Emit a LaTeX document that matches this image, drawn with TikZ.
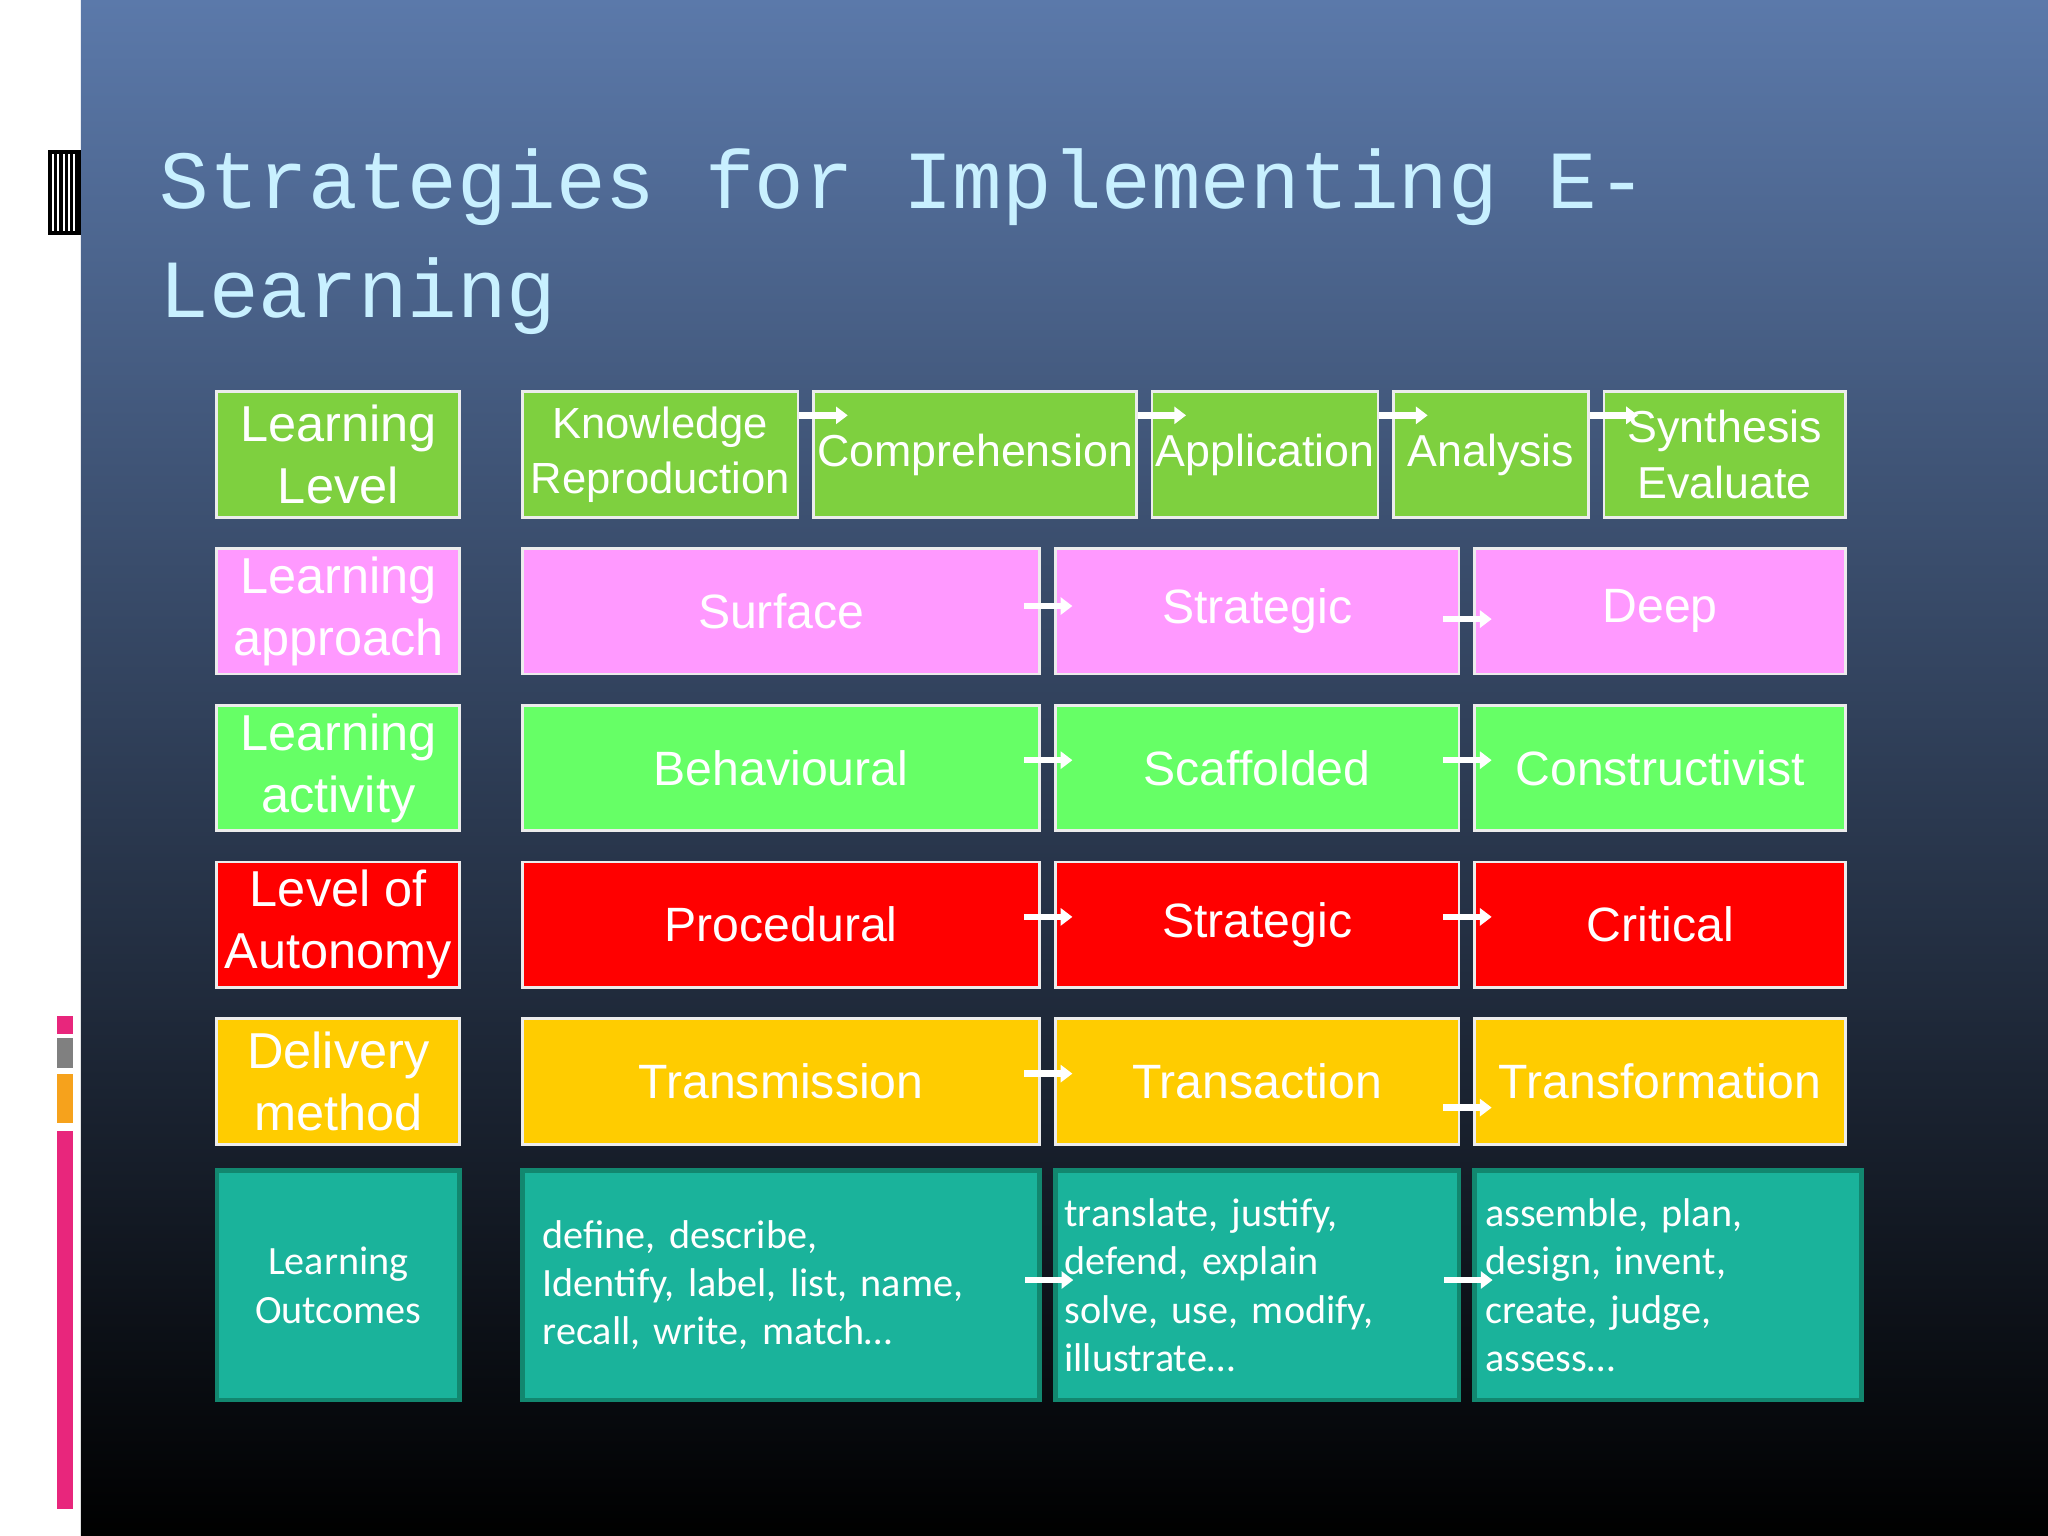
\documentclass[tikz,border=0pt]{standalone}
\usepackage{fontspec}
\setmainfont{Liberation Sans}
\newfontfamily\monof{Liberation Mono}
\newfontfamily\calf{Carlito}
\usetikzlibrary{calc,arrows.meta}
\definecolor{bgtop}{HTML}{5B79AA}
\definecolor{bgmid}{HTML}{2B3A55}
\definecolor{ttl}{HTML}{C8F0FF}
\definecolor{gA}{HTML}{7ED03F}
\definecolor{pk}{HTML}{FF99FF}
\definecolor{gB}{HTML}{66FF66}
\definecolor{rd}{HTML}{FF0000}
\definecolor{gd}{HTML}{FFCC00}
\definecolor{tl}{HTML}{1AB39B}
\definecolor{tlb}{HTML}{12876F}
\definecolor{pinkbar}{HTML}{E8267C}
\definecolor{orbar}{HTML}{F6A21C}
\tikzset{
 cell/.style={draw=white!85!gray,line width=1.2pt,text=white,inner sep=0pt,align=center,font=\fontsize{21}{26}\selectfont},
 hcell/.style={cell,font=\fontsize{22}{27}\selectfont},
 tcell/.style={cell,fill=tl,draw=tlb,line width=2pt,font=\calf\fontsize{17.5}{21}\selectfont},
 arr/.style={white,line width=0.1cm,-{Triangle[length=0.18cm,width=0.26cm]}}
}
\newcommand\bx[7]{\node[#6,minimum width={(#4-#2)*0.02cm},minimum height={(#5-#3)*0.02cm}] (#1) at ({(#2+#4)/2},{(#3+#5)/2}) {#7};}
\begin{document}
\begin{tikzpicture}[x=0.02cm,y=-0.02cm]
\useasboundingbox (0,0) rectangle (1568,1176);
\fill[white] (0,0) rectangle (62,1176);
\shade[top color=bgtop,middle color=bgmid,bottom color=black] (62,0) rectangle (1568,1176);
\fill[black] (37,115) rectangle (62,180);
\foreach \x in {40,44,48,52,56}{\fill[white] (\x,118) rectangle (\x+1.5,177);}
\fill[pinkbar] (44,778) rectangle (56,792);
\fill[gray] (44,795) rectangle (56,818);
\fill[orbar] (44,822) rectangle (56,860);
\fill[pinkbar] (44,866) rectangle (56,1155);
\node[anchor=base west,text=ttl,font=\monof\fontsize{36}{40}\selectfont,inner sep=0pt] (t1) at (122,160) {Strategies for Implementing E-};
\node[anchor=base west,text=ttl,font=\monof\fontsize{36}{40}\selectfont,inner sep=0pt] (t2) at (122,243) {Learning};
% row 1
\bx{l1}{166}{300}{352}{396}{hcell,fill=gA}{Learning\\Level}
\bx{a1}{400}{300}{611}{396}{cell,fill=gA,font=\fontsize{19}{24}\selectfont}{Knowledge\\Reproduction}
\bx{b1}{623}{300}{870}{396}{cell,fill=gA,font=\fontsize{19.5}{24}\selectfont}{Comprehension}
\bx{c1}{882}{300}{1055}{396}{cell,fill=gA,font=\fontsize{19.5}{24}\selectfont}{Application}
\bx{d1}{1067}{300}{1216}{396}{cell,fill=gA,font=\fontsize{19.5}{24}\selectfont}{Analysis}
\bx{e1}{1228}{300}{1413}{396}{cell,fill=gA,font=\fontsize{19.5}{24}\selectfont}{Synthesis\\Evaluate}
% row 2
\bx{l2}{166}{420}{352}{516}{hcell,fill=pk}{Learning\\approach}
\bx{a2}{400}{420}{796}{516}{cell,fill=pk}{Surface}
\bx{b2}{808}{420}{1117}{516}{cell,fill=pk}{Strategic}
\bx{c2}{1129}{420}{1413}{516}{cell,fill=pk}{Deep}
% row 3
\bx{l3}{166}{540}{352}{636}{hcell,fill=gB}{Learning\\activity}
\bx{a3}{400}{540}{796}{636}{cell,fill=gB}{Behavioural}
\bx{b3}{808}{540}{1117}{636}{cell,fill=gB}{Scaffolded}
\bx{c3}{1129}{540}{1413}{636}{cell,fill=gB}{Constructivist}
% row 4
\bx{l4}{166}{660}{352}{756}{hcell,fill=rd}{Level of\\Autonomy}
\bx{a4}{400}{660}{796}{756}{cell,fill=rd}{Procedural}
\bx{b4}{808}{660}{1117}{756}{cell,fill=rd}{Strategic}
\bx{c4}{1129}{660}{1413}{756}{cell,fill=rd}{Critical}
% row 5
\bx{l5}{166}{780}{352}{876}{hcell,fill=gd}{Delivery\\method}
\bx{a5}{400}{780}{796}{876}{cell,fill=gd}{Transmission}
\bx{b5}{808}{780}{1117}{876}{cell,fill=gd}{Transaction}
\bx{c5}{1129}{780}{1413}{876}{cell,fill=gd}{Transformation}
% row 6
\bx{l6}{166}{896}{352}{1072}{tcell}{Learning\\Outcomes}
\bx{a6}{400}{896}{796}{1072}{tcell,text width=7.3cm,align=left}{define, describe,\\Identify, label, list, name,\\recall, write, match\dots}
\bx{b6}{808}{896}{1117}{1072}{tcell,text width=5.9cm,align=left}{translate, justify,\\defend, explain\\solve, use, modify,\\illustrate\dots}
\bx{c6}{1129}{896}{1425}{1072}{tcell,text width=5.6cm,align=left}{assemble, plan,\\design, invent,\\create, judge,\\assess\dots}
% arrows
\draw[arr] ($(a1.east)+(0,-30)$) -- ++(37,0);
\draw[arr] ($(b1.east)+(0,-30)$) -- ++(37,0);
\draw[arr] ($(c1.east)+(0,-30)$) -- ++(37,0);
\draw[arr] ($(d1.east)+(0,-30)$) -- ++(37,0);
\draw[arr] ($(a2.east)+(-13,-4)$) -- ++(37,0);
\draw[arr] ($(b2.east)+(-13,6)$) -- ++(37,0);
\draw[arr] ($(a3.east)+(-13,-6)$) -- ++(37,0);
\draw[arr] ($(b3.east)+(-13,-6)$) -- ++(37,0);
\draw[arr] ($(a4.east)+(-13,-6)$) -- ++(37,0);
\draw[arr] ($(b4.east)+(-13,-6)$) -- ++(37,0);
\draw[arr] ($(a5.east)+(-13,-6)$) -- ++(37,0);
\draw[arr] ($(b5.east)+(-13,20)$) -- ++(37,0);
\draw[arr] ($(a6.east)+(-13,-4)$) -- ++(37,0);
\draw[arr] ($(b6.east)+(-13,-4)$) -- ++(37,0);
\end{tikzpicture}
\end{document}
